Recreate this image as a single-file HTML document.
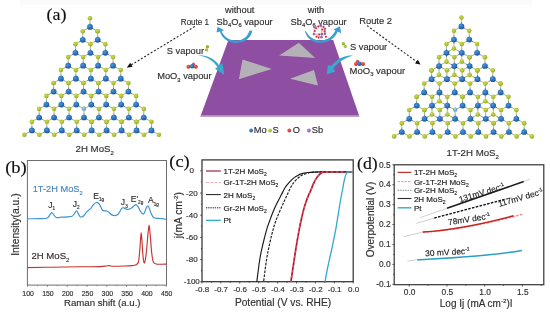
<!DOCTYPE html>
<html><head><meta charset="utf-8"><title>MoS2 figure</title>
<style>html,body{margin:0;padding:0;background:#fff;overflow:hidden}svg{display:block;filter:blur(0.4px)}</style>
</head><body>
<svg width="550" height="313" viewBox="0 0 550 313">
<defs>
<radialGradient id="gMo" cx="40%" cy="35%" r="70%"><stop offset="0" stop-color="#4a98dc"/><stop offset="0.55" stop-color="#2a72b8"/><stop offset="1" stop-color="#1a4f8e"/></radialGradient>
<radialGradient id="gS" cx="40%" cy="35%" r="70%"><stop offset="0" stop-color="#cfdc4c"/><stop offset="0.55" stop-color="#aec234"/><stop offset="1" stop-color="#8ea226"/></radialGradient>
<radialGradient id="gO" cx="40%" cy="35%" r="70%"><stop offset="0" stop-color="#f06a5a"/><stop offset="1" stop-color="#c8281e"/></radialGradient>
<radialGradient id="gSb" cx="40%" cy="35%" r="70%"><stop offset="0" stop-color="#b890d0"/><stop offset="1" stop-color="#8a58a8"/></radialGradient>
</defs>
<rect x="0" y="0" width="550" height="313" fill="#ffffff"/>
<rect x="20" y="0" width="512" height="4.5" fill="#fafafa"/>
<g stroke-width="1" fill="none">
<path stroke="#6b80b4" d="M90 26.9L90 22.58M90 26.9L86.26 29.06M90 26.9L93.74 29.06M82.73 39.84L82.73 35.52M82.73 39.84L79 42M82.73 39.84L86.47 42M97.69 39.84L97.69 35.52M97.69 39.84L93.95 42M97.69 39.84L101.42 42M75.47 52.78L75.47 48.46M75.47 52.78L71.73 54.94M75.47 52.78L79.21 54.94M90.42 52.78L90.42 48.46M90.42 52.78L86.68 54.94M90.42 52.78L94.16 54.94M105.37 52.78L105.37 48.46M105.37 52.78L101.63 54.94M105.37 52.78L109.11 54.94M68.2 65.72L68.2 61.4M68.2 65.72L64.47 67.88M68.2 65.72L71.94 67.88M83.16 65.72L83.16 61.4M83.16 65.72L79.42 67.88M83.16 65.72L86.89 67.88M98.1 65.72L98.1 61.4M98.1 65.72L94.37 67.88M98.1 65.72L101.84 67.88M113.05 65.72L113.05 61.4M113.05 65.72L109.32 67.88M113.05 65.72L116.79 67.88M60.94 78.66L60.94 74.34M60.94 78.66L57.2 80.82M60.94 78.66L64.68 80.82M75.89 78.66L75.89 74.34M75.89 78.66L72.15 80.82M75.89 78.66L79.63 80.82M90.84 78.66L90.84 74.34M90.84 78.66L87.1 80.82M90.84 78.66L94.58 80.82M105.79 78.66L105.79 74.34M105.79 78.66L102.05 80.82M105.79 78.66L109.53 80.82M120.74 78.66L120.74 74.34M120.74 78.66L117 80.82M120.74 78.66L124.48 80.82M53.68 91.6L53.68 87.28M53.68 91.6L49.94 93.76M53.68 91.6L57.41 93.76M68.62 91.6L68.62 87.28M68.62 91.6L64.89 93.76M68.62 91.6L72.36 93.76M83.58 91.6L83.58 87.28M83.58 91.6L79.84 93.76M83.58 91.6L87.31 93.76M98.53 91.6L98.53 87.28M98.53 91.6L94.79 93.76M98.53 91.6L102.26 93.76M113.47 91.6L113.47 87.28M113.47 91.6L109.74 93.76M113.47 91.6L117.21 93.76M128.43 91.6L128.43 87.28M128.43 91.6L124.69 93.76M128.43 91.6L132.16 93.76M46.41 104.54L46.41 100.22M46.41 104.54L42.67 106.7M46.41 104.54L50.15 106.7M61.36 104.54L61.36 100.22M61.36 104.54L57.62 106.7M61.36 104.54L65.1 106.7M76.31 104.54L76.31 100.22M76.31 104.54L72.57 106.7M76.31 104.54L80.05 106.7M91.26 104.54L91.26 100.22M91.26 104.54L87.52 106.7M91.26 104.54L95 106.7M106.21 104.54L106.21 100.22M106.21 104.54L102.47 106.7M106.21 104.54L109.95 106.7M121.16 104.54L121.16 100.22M121.16 104.54L117.42 106.7M121.16 104.54L124.9 106.7M136.11 104.54L136.11 100.22M136.11 104.54L132.37 106.7M136.11 104.54L139.85 106.7M39.15 117.48L39.15 113.16M39.15 117.48L35.41 119.64M39.15 117.48L42.88 119.64M54.09 117.48L54.09 113.16M54.09 117.48L50.36 119.64M54.09 117.48L57.83 119.64M69.05 117.48L69.05 113.16M69.05 117.48L65.31 119.64M69.05 117.48L72.78 119.64M84 117.48L84 113.16M84 117.48L80.26 119.64M84 117.48L87.73 119.64M98.94 117.48L98.94 113.16M98.94 117.48L95.21 119.64M98.94 117.48L102.68 119.64M113.9 117.48L113.9 113.16M113.9 117.48L110.16 119.64M113.9 117.48L117.63 119.64M128.84 117.48L128.84 113.16M128.84 117.48L125.11 119.64M128.84 117.48L132.58 119.64M143.79 117.48L143.79 113.16M143.79 117.48L140.06 119.64M143.79 117.48L147.53 119.64M31.88 130.42L31.88 126.1M31.88 130.42L28.14 132.58M31.88 130.42L35.62 132.58M46.83 130.42L46.83 126.1M46.83 130.42L43.09 132.58M46.83 130.42L50.57 132.58M61.78 130.42L61.78 126.1M61.78 130.42L58.04 132.58M61.78 130.42L65.52 132.58M76.73 130.42L76.73 126.1M76.73 130.42L72.99 132.58M76.73 130.42L80.47 132.58M91.68 130.42L91.68 126.1M91.68 130.42L87.94 132.58M91.68 130.42L95.42 132.58M106.63 130.42L106.63 126.1M106.63 130.42L102.89 132.58M106.63 130.42L110.37 132.58M121.58 130.42L121.58 126.1M121.58 130.42L117.84 132.58M121.58 130.42L125.32 132.58M136.53 130.42L136.53 126.1M136.53 130.42L132.79 132.58M136.53 130.42L140.27 132.58M151.48 130.42L151.48 126.1M151.48 130.42L147.74 132.58M151.48 130.42L155.22 132.58"/>
<path stroke="#b2bd58" d="M90 22.58L90 18.27M86.26 29.06L82.53 31.22M93.74 29.06L97.47 31.22M82.73 35.52L82.73 31.21M79 42L75.26 44.16M86.47 42L90.21 44.16M97.69 35.52L97.69 31.21M93.95 42L90.21 44.16M101.42 42L105.16 44.16M75.47 48.46L75.47 44.15M71.73 54.94L68 57.1M79.21 54.94L82.94 57.1M90.42 48.46L90.42 44.15M86.68 54.94L82.95 57.1M94.16 54.94L97.89 57.1M105.37 48.46L105.37 44.15M101.63 54.94L97.9 57.1M109.11 54.94L112.84 57.1M68.2 61.4L68.2 57.09M64.47 67.88L60.73 70.04M71.94 67.88L75.68 70.04M83.16 61.4L83.16 57.09M79.42 67.88L75.68 70.04M86.89 67.88L90.63 70.04M98.1 61.4L98.1 57.09M94.37 67.88L90.63 70.04M101.84 67.88L105.58 70.04M113.05 61.4L113.05 57.09M109.32 67.88L105.58 70.04M116.79 67.88L120.53 70.04M60.94 74.34L60.94 70.03M57.2 80.82L53.46 82.98M64.68 80.82L68.41 82.98M75.89 74.34L75.89 70.03M72.15 80.82L68.42 82.98M79.63 80.82L83.36 82.98M90.84 74.34L90.84 70.03M87.1 80.82L83.37 82.98M94.58 80.82L98.31 82.98M105.79 74.34L105.79 70.03M102.05 80.82L98.31 82.98M109.53 80.82L113.26 82.98M120.74 74.34L120.74 70.03M117 80.82L113.27 82.98M124.48 80.82L128.22 82.98M53.68 87.28L53.68 82.97M49.94 93.76L46.2 95.92M57.41 93.76L61.15 95.92M68.62 87.28L68.62 82.97M64.89 93.76L61.15 95.92M72.36 93.76L76.1 95.92M83.58 87.28L83.58 82.97M79.84 93.76L76.1 95.92M87.31 93.76L91.05 95.92M98.53 87.28L98.53 82.97M94.79 93.76L91.05 95.92M102.26 93.76L106 95.92M113.47 87.28L113.47 82.97M109.74 93.76L106 95.92M117.21 93.76L120.95 95.92M128.43 87.28L128.43 82.97M124.69 93.76L120.95 95.92M132.16 93.76L135.9 95.92M46.41 100.22L46.41 95.91M42.67 106.7L38.94 108.86M50.15 106.7L53.89 108.86M61.36 100.22L61.36 95.91M57.62 106.7L53.88 108.86M65.1 106.7L68.83 108.86M76.31 100.22L76.31 95.91M72.57 106.7L68.84 108.86M80.05 106.7L83.78 108.86M91.26 100.22L91.26 95.91M87.52 106.7L83.78 108.86M95 106.7L98.73 108.86M106.21 100.22L106.21 95.91M102.47 106.7L98.74 108.86M109.95 106.7L113.69 108.86M121.16 100.22L121.16 95.91M117.42 106.7L113.69 108.86M124.9 106.7L128.63 108.86M136.11 100.22L136.11 95.91M132.37 106.7L128.63 108.86M139.85 106.7L143.58 108.86M39.15 113.16L39.15 108.85M35.41 119.64L31.67 121.8M42.88 119.64L46.62 121.8M54.09 113.16L54.09 108.85M50.36 119.64L46.62 121.8M57.83 119.64L61.57 121.8M69.05 113.16L69.05 108.85M65.31 119.64L61.57 121.8M72.78 119.64L76.52 121.8M84 113.16L84 108.85M80.26 119.64L76.52 121.8M87.73 119.64L91.47 121.8M98.94 113.16L98.94 108.85M95.21 119.64L91.47 121.8M102.68 119.64L106.42 121.8M113.9 113.16L113.9 108.85M110.16 119.64L106.42 121.8M117.63 119.64L121.37 121.8M128.84 113.16L128.84 108.85M125.11 119.64L121.37 121.8M132.58 119.64L136.32 121.8M143.79 113.16L143.79 108.85M140.06 119.64L136.32 121.8M147.53 119.64L151.27 121.8M31.88 126.1L31.88 121.79M28.14 132.58L24.41 134.74M35.62 132.58L39.36 134.74M46.83 126.1L46.83 121.79M43.09 132.58L39.35 134.74M50.57 132.58L54.3 134.74M61.78 126.1L61.78 121.79M58.04 132.58L54.3 134.74M65.52 132.58L69.25 134.74M76.73 126.1L76.73 121.79M72.99 132.58L69.25 134.74M80.47 132.58L84.2 134.74M91.68 126.1L91.68 121.79M87.94 132.58L84.21 134.74M95.42 132.58L99.16 134.74M106.63 126.1L106.63 121.79M102.89 132.58L99.16 134.74M110.37 132.58L114.1 134.74M121.58 126.1L121.58 121.79M117.84 132.58L114.1 134.74M125.32 132.58L129.05 134.74M136.53 126.1L136.53 121.79M132.79 132.58L129.06 134.74M140.27 132.58L144 134.74M151.48 126.1L151.48 121.79M147.74 132.58L144 134.74M155.22 132.58L158.95 134.74"/>
</g>
<g fill="url(#gS)">
<circle cx="90" cy="18.27" r="2.3"/>
<circle cx="82.73" cy="31.21" r="2.3"/>
<circle cx="97.47" cy="31.22" r="2.3"/>
<circle cx="75.47" cy="44.15" r="2.3"/>
<circle cx="90.42" cy="44.15" r="2.3"/>
<circle cx="97.69" cy="31.21" r="2.3"/>
<circle cx="105.37" cy="44.15" r="2.3"/>
<circle cx="68.2" cy="57.09" r="2.3"/>
<circle cx="83.16" cy="57.09" r="2.3"/>
<circle cx="98.1" cy="57.09" r="2.3"/>
<circle cx="113.05" cy="57.09" r="2.3"/>
<circle cx="60.94" cy="70.03" r="2.3"/>
<circle cx="75.89" cy="70.03" r="2.3"/>
<circle cx="90.84" cy="70.03" r="2.3"/>
<circle cx="105.79" cy="70.03" r="2.3"/>
<circle cx="120.74" cy="70.03" r="2.3"/>
<circle cx="53.46" cy="82.98" r="2.3"/>
<circle cx="68.42" cy="82.98" r="2.3"/>
<circle cx="83.37" cy="82.98" r="2.3"/>
<circle cx="98.31" cy="82.98" r="2.3"/>
<circle cx="113.47" cy="82.97" r="2.3"/>
<circle cx="128.43" cy="82.97" r="2.3"/>
<circle cx="53.68" cy="82.97" r="2.3"/>
<circle cx="46.41" cy="95.91" r="2.3"/>
<circle cx="61.36" cy="95.91" r="2.3"/>
<circle cx="68.62" cy="82.97" r="2.3"/>
<circle cx="76.31" cy="95.91" r="2.3"/>
<circle cx="83.58" cy="82.97" r="2.3"/>
<circle cx="91.26" cy="95.91" r="2.3"/>
<circle cx="98.53" cy="82.97" r="2.3"/>
<circle cx="106.21" cy="95.91" r="2.3"/>
<circle cx="121.16" cy="95.91" r="2.3"/>
<circle cx="136.11" cy="95.91" r="2.3"/>
<circle cx="39.15" cy="108.85" r="2.3"/>
<circle cx="54.09" cy="108.85" r="2.3"/>
<circle cx="69.05" cy="108.85" r="2.3"/>
<circle cx="84" cy="108.85" r="2.3"/>
<circle cx="98.94" cy="108.85" r="2.3"/>
<circle cx="113.9" cy="108.85" r="2.3"/>
<circle cx="128.84" cy="108.85" r="2.3"/>
<circle cx="143.79" cy="108.85" r="2.3"/>
<circle cx="31.88" cy="121.79" r="2.3"/>
<circle cx="46.83" cy="121.79" r="2.3"/>
<circle cx="61.78" cy="121.79" r="2.3"/>
<circle cx="76.73" cy="121.79" r="2.3"/>
<circle cx="91.47" cy="121.8" r="2.3"/>
<circle cx="106.42" cy="121.8" r="2.3"/>
<circle cx="121.37" cy="121.8" r="2.3"/>
<circle cx="136.32" cy="121.8" r="2.3"/>
<circle cx="151.48" cy="121.79" r="2.3"/>
<circle cx="24.41" cy="134.74" r="2.3"/>
<circle cx="39.35" cy="134.74" r="2.3"/>
<circle cx="54.3" cy="134.74" r="2.3"/>
<circle cx="69.25" cy="134.74" r="2.3"/>
<circle cx="84.21" cy="134.74" r="2.3"/>
<circle cx="91.68" cy="121.79" r="2.3"/>
<circle cx="99.16" cy="134.74" r="2.3"/>
<circle cx="106.63" cy="121.79" r="2.3"/>
<circle cx="114.1" cy="134.74" r="2.3"/>
<circle cx="121.58" cy="121.79" r="2.3"/>
<circle cx="129.06" cy="134.74" r="2.3"/>
<circle cx="136.53" cy="121.79" r="2.3"/>
<circle cx="144" cy="134.74" r="2.3"/>
<circle cx="158.95" cy="134.74" r="2.3"/>
</g>
<g fill="url(#gMo)">
<circle cx="90" cy="26.9" r="2.85"/>
<circle cx="82.73" cy="39.84" r="2.85"/>
<circle cx="97.69" cy="39.84" r="2.85"/>
<circle cx="75.47" cy="52.78" r="2.85"/>
<circle cx="90.42" cy="52.78" r="2.85"/>
<circle cx="105.37" cy="52.78" r="2.85"/>
<circle cx="68.2" cy="65.72" r="2.85"/>
<circle cx="83.16" cy="65.72" r="2.85"/>
<circle cx="98.1" cy="65.72" r="2.85"/>
<circle cx="113.05" cy="65.72" r="2.85"/>
<circle cx="60.94" cy="78.66" r="2.85"/>
<circle cx="75.89" cy="78.66" r="2.85"/>
<circle cx="90.84" cy="78.66" r="2.85"/>
<circle cx="105.79" cy="78.66" r="2.85"/>
<circle cx="120.74" cy="78.66" r="2.85"/>
<circle cx="53.68" cy="91.6" r="2.85"/>
<circle cx="68.62" cy="91.6" r="2.85"/>
<circle cx="83.58" cy="91.6" r="2.85"/>
<circle cx="98.53" cy="91.6" r="2.85"/>
<circle cx="113.47" cy="91.6" r="2.85"/>
<circle cx="128.43" cy="91.6" r="2.85"/>
<circle cx="46.41" cy="104.54" r="2.85"/>
<circle cx="61.36" cy="104.54" r="2.85"/>
<circle cx="76.31" cy="104.54" r="2.85"/>
<circle cx="91.26" cy="104.54" r="2.85"/>
<circle cx="106.21" cy="104.54" r="2.85"/>
<circle cx="121.16" cy="104.54" r="2.85"/>
<circle cx="136.11" cy="104.54" r="2.85"/>
<circle cx="39.15" cy="117.48" r="2.85"/>
<circle cx="54.09" cy="117.48" r="2.85"/>
<circle cx="69.05" cy="117.48" r="2.85"/>
<circle cx="84" cy="117.48" r="2.85"/>
<circle cx="98.94" cy="117.48" r="2.85"/>
<circle cx="113.9" cy="117.48" r="2.85"/>
<circle cx="128.84" cy="117.48" r="2.85"/>
<circle cx="143.79" cy="117.48" r="2.85"/>
<circle cx="31.88" cy="130.42" r="2.85"/>
<circle cx="46.83" cy="130.42" r="2.85"/>
<circle cx="61.78" cy="130.42" r="2.85"/>
<circle cx="76.73" cy="130.42" r="2.85"/>
<circle cx="91.68" cy="130.42" r="2.85"/>
<circle cx="106.63" cy="130.42" r="2.85"/>
<circle cx="121.58" cy="130.42" r="2.85"/>
<circle cx="136.53" cy="130.42" r="2.85"/>
<circle cx="151.48" cy="130.42" r="2.85"/>
</g>
<g stroke-width="1" fill="none">
<path stroke="#6b80b4" d="M461.4 26.4L461.4 21.98M461.4 26.4L457.57 28.61M461.4 26.4L465.22 28.61M453.95 39.6L453.95 35.18M453.95 39.6L450.12 41.81M453.95 39.6L457.77 41.81M453.95 39.6L453.95 44.02M446.3 52.8L450.12 50.62M461.6 52.8L457.77 50.62M469.25 39.6L469.25 35.18M469.25 39.6L465.43 41.81M469.25 39.6L473.07 41.81M446.5 52.8L446.5 48.38M446.5 52.8L442.68 55.01M446.5 52.8L450.32 55.01M446.5 52.8L446.5 57.22M438.85 66L442.68 63.82M454.15 66L450.32 63.82M461.8 52.8L461.8 48.38M461.8 52.8L457.98 55.01M461.8 52.8L465.62 55.01M461.8 52.8L461.8 57.22M454.15 66L457.98 63.82M469.45 66L465.62 63.82M477.1 52.8L477.1 48.38M477.1 52.8L473.28 55.01M477.1 52.8L480.93 55.01M439.05 66L439.05 61.58M439.05 66L435.22 68.21M439.05 66L442.87 68.21M439.05 66L439.05 70.42M431.4 79.2L435.22 77.02M446.7 79.2L442.87 77.02M454.35 66L454.35 61.58M454.35 66L450.52 68.21M454.35 66L458.17 68.21M454.35 66L454.35 70.42M446.7 79.2L450.52 77.02M462 79.2L458.17 77.02M469.65 66L469.65 61.58M469.65 66L465.82 68.21M469.65 66L473.47 68.21M469.65 66L469.65 70.42M462 79.2L465.82 77.02M477.3 79.2L473.47 77.02M484.95 66L484.95 61.58M484.95 66L481.12 68.21M484.95 66L488.77 68.21M431.6 79.2L431.6 74.78M431.6 79.2L427.77 81.41M431.6 79.2L435.42 81.41M446.9 79.2L446.9 74.78M446.9 79.2L443.07 81.41M446.9 79.2L450.72 81.41M462.2 79.2L462.2 74.78M462.2 79.2L458.38 81.41M462.2 79.2L466.02 81.41M477.5 79.2L477.5 74.78M477.5 79.2L473.68 81.41M477.5 79.2L481.32 81.41M492.8 79.2L492.8 74.78M492.8 79.2L488.97 81.41M492.8 79.2L496.62 81.41M424.15 92.4L424.15 87.98M424.15 92.4L420.32 94.61M424.15 92.4L427.97 94.61M439.45 92.4L439.45 87.98M439.45 92.4L435.62 94.61M439.45 92.4L443.27 94.61M439.45 92.4L439.45 96.82M431.8 105.6L435.62 103.42M447.1 105.6L443.27 103.42M454.75 92.4L454.75 87.98M454.75 92.4L450.93 94.61M454.75 92.4L458.57 94.61M470.05 92.4L470.05 87.98M470.05 92.4L466.22 94.61M470.05 92.4L473.87 94.61M485.35 92.4L485.35 87.98M485.35 92.4L481.52 94.61M485.35 92.4L489.17 94.61M485.35 92.4L485.35 96.82M477.7 105.6L481.52 103.42M493 105.6L489.17 103.42M500.65 92.4L500.65 87.98M500.65 92.4L496.82 94.61M500.65 92.4L504.47 94.61M416.7 105.6L416.7 101.18M416.7 105.6L412.88 107.81M416.7 105.6L420.52 107.81M432 105.6L432 101.18M432 105.6L428.18 107.81M432 105.6L435.82 107.81M432 105.6L432 110.02M424.35 118.8L428.18 116.62M439.65 118.8L435.82 116.62M447.3 105.6L447.3 101.18M447.3 105.6L443.48 107.81M447.3 105.6L451.12 107.81M447.3 105.6L447.3 110.02M439.65 118.8L443.48 116.62M454.95 118.8L451.12 116.62M462.6 105.6L462.6 101.18M462.6 105.6L458.78 107.81M462.6 105.6L466.43 107.81M477.9 105.6L477.9 101.18M477.9 105.6L474.07 107.81M477.9 105.6L481.72 107.81M477.9 105.6L477.9 110.02M470.25 118.8L474.07 116.62M485.55 118.8L481.72 116.62M493.2 105.6L493.2 101.18M493.2 105.6L489.38 107.81M493.2 105.6L497.02 107.81M493.2 105.6L493.2 110.02M485.55 118.8L489.38 116.62M500.85 118.8L497.02 116.62M508.5 105.6L508.5 101.18M508.5 105.6L504.68 107.81M508.5 105.6L512.33 107.81M409.25 118.8L409.25 114.38M409.25 118.8L405.43 121.01M409.25 118.8L413.07 121.01M424.55 118.8L424.55 114.38M424.55 118.8L420.73 121.01M424.55 118.8L428.38 121.01M439.85 118.8L439.85 114.38M439.85 118.8L436.03 121.01M439.85 118.8L443.68 121.01M455.15 118.8L455.15 114.38M455.15 118.8L451.32 121.01M455.15 118.8L458.97 121.01M470.45 118.8L470.45 114.38M470.45 118.8L466.62 121.01M470.45 118.8L474.27 121.01M485.75 118.8L485.75 114.38M485.75 118.8L481.93 121.01M485.75 118.8L489.57 121.01M501.05 118.8L501.05 114.38M501.05 118.8L497.23 121.01M501.05 118.8L504.88 121.01M516.35 118.8L516.35 114.38M516.35 118.8L512.53 121.01M516.35 118.8L520.17 121.01M401.8 132L401.8 127.58M401.8 132L397.97 134.21M401.8 132L405.62 134.21M417.1 132L417.1 127.58M417.1 132L413.27 134.21M417.1 132L420.92 134.21M432.4 132L432.4 127.58M432.4 132L428.57 134.21M432.4 132L436.22 134.21M447.7 132L447.7 127.58M447.7 132L443.87 134.21M447.7 132L451.52 134.21M463 132L463 127.58M463 132L459.17 134.21M463 132L466.82 134.21M478.3 132L478.3 127.58M478.3 132L474.47 134.21M478.3 132L482.12 134.21M493.6 132L493.6 127.58M493.6 132L489.77 134.21M493.6 132L497.42 134.21M508.9 132L508.9 127.58M508.9 132L505.07 134.21M508.9 132L512.72 134.21M524.2 132L524.2 127.58M524.2 132L520.38 134.21M524.2 132L528.02 134.21"/>
<path stroke="#b2bd58" d="M461.4 21.98L461.4 17.57M457.57 28.61L453.75 30.82M465.22 28.61L469.05 30.82M453.95 35.18L453.95 30.77M450.12 41.81L446.3 44.02M457.77 41.81L461.6 44.02M453.95 44.02L453.95 48.43M450.12 50.62L453.95 48.43M457.77 50.62L453.95 48.43M469.25 35.18L469.25 30.77M465.43 41.81L461.6 44.02M473.07 41.81L476.9 44.02M446.5 48.38L446.5 43.97M442.68 55.01L438.85 57.22M450.32 55.01L454.15 57.22M446.5 57.22L446.5 61.63M442.68 63.82L446.5 61.63M450.32 63.82L446.5 61.63M461.8 48.38L461.8 43.97M457.98 55.01L454.15 57.22M465.62 55.01L469.45 57.22M461.8 57.22L461.8 61.63M457.98 63.82L461.8 61.63M465.62 63.82L461.8 61.63M477.1 48.38L477.1 43.97M473.28 55.01L469.45 57.22M480.93 55.01L484.75 57.22M439.05 61.58L439.05 57.17M435.22 68.21L431.4 70.42M442.87 68.21L446.7 70.42M439.05 70.42L439.05 74.83M435.22 77.02L439.05 74.83M442.87 77.02L439.05 74.83M454.35 61.58L454.35 57.17M450.52 68.21L446.7 70.42M458.17 68.21L462 70.42M454.35 70.42L454.35 74.83M450.52 77.02L454.35 74.83M458.17 77.02L454.35 74.83M469.65 61.58L469.65 57.17M465.82 68.21L462 70.42M473.47 68.21L477.3 70.42M469.65 70.42L469.65 74.83M465.82 77.02L469.65 74.83M473.47 77.02L469.65 74.83M484.95 61.58L484.95 57.17M481.12 68.21L477.3 70.42M488.77 68.21L492.6 70.42M431.6 74.78L431.6 70.37M427.77 81.41L423.95 83.62M435.42 81.41L439.25 83.62M446.9 74.78L446.9 70.37M443.07 81.41L439.25 83.62M450.72 81.41L454.55 83.62M462.2 74.78L462.2 70.37M458.38 81.41L454.55 83.62M466.02 81.41L469.85 83.62M477.5 74.78L477.5 70.37M473.68 81.41L469.85 83.62M481.32 81.41L485.15 83.62M492.8 74.78L492.8 70.37M488.97 81.41L485.15 83.62M496.62 81.41L500.45 83.62M424.15 87.98L424.15 83.57M420.32 94.61L416.5 96.82M427.97 94.61L431.8 96.82M439.45 87.98L439.45 83.57M435.62 94.61L431.8 96.82M443.27 94.61L447.1 96.82M439.45 96.82L439.45 101.23M435.62 103.42L439.45 101.23M443.27 103.42L439.45 101.23M454.75 87.98L454.75 83.57M450.93 94.61L447.1 96.82M458.57 94.61L462.4 96.82M470.05 87.98L470.05 83.57M466.22 94.61L462.4 96.82M473.87 94.61L477.7 96.82M485.35 87.98L485.35 83.57M481.52 94.61L477.7 96.82M489.17 94.61L493 96.82M485.35 96.82L485.35 101.23M481.52 103.42L485.35 101.23M489.17 103.42L485.35 101.23M500.65 87.98L500.65 83.57M496.82 94.61L493 96.82M504.47 94.61L508.3 96.82M416.7 101.18L416.7 96.77M412.88 107.81L409.05 110.02M420.52 107.81L424.35 110.02M432 101.18L432 96.77M428.18 107.81L424.35 110.02M435.82 107.81L439.65 110.02M432 110.02L432 114.43M428.18 116.62L432 114.43M435.82 116.62L432 114.43M447.3 101.18L447.3 96.77M443.48 107.81L439.65 110.02M451.12 107.81L454.95 110.02M447.3 110.02L447.3 114.43M443.48 116.62L447.3 114.43M451.12 116.62L447.3 114.43M462.6 101.18L462.6 96.77M458.78 107.81L454.95 110.02M466.43 107.81L470.25 110.02M477.9 101.18L477.9 96.77M474.07 107.81L470.25 110.02M481.72 107.81L485.55 110.02M477.9 110.02L477.9 114.43M474.07 116.62L477.9 114.43M481.72 116.62L477.9 114.43M493.2 101.18L493.2 96.77M489.38 107.81L485.55 110.02M497.02 107.81L500.85 110.02M493.2 110.02L493.2 114.43M489.38 116.62L493.2 114.43M497.02 116.62L493.2 114.43M508.5 101.18L508.5 96.77M504.68 107.81L500.85 110.02M512.33 107.81L516.15 110.02M409.25 114.38L409.25 109.97M405.43 121.01L401.6 123.22M413.07 121.01L416.9 123.22M424.55 114.38L424.55 109.97M420.73 121.01L416.9 123.22M428.38 121.01L432.2 123.22M439.85 114.38L439.85 109.97M436.03 121.01L432.2 123.22M443.68 121.01L447.5 123.22M455.15 114.38L455.15 109.97M451.32 121.01L447.5 123.22M458.97 121.01L462.8 123.22M470.45 114.38L470.45 109.97M466.62 121.01L462.8 123.22M474.27 121.01L478.1 123.22M485.75 114.38L485.75 109.97M481.93 121.01L478.1 123.22M489.57 121.01L493.4 123.22M501.05 114.38L501.05 109.97M497.23 121.01L493.4 123.22M504.88 121.01L508.7 123.22M516.35 114.38L516.35 109.97M512.53 121.01L508.7 123.22M520.17 121.01L524 123.22M401.8 127.58L401.8 123.17M397.97 134.21L394.15 136.42M405.62 134.21L409.45 136.42M417.1 127.58L417.1 123.17M413.27 134.21L409.45 136.42M420.92 134.21L424.75 136.42M432.4 127.58L432.4 123.17M428.57 134.21L424.75 136.42M436.22 134.21L440.05 136.42M447.7 127.58L447.7 123.17M443.87 134.21L440.05 136.42M451.52 134.21L455.35 136.42M463 127.58L463 123.17M459.17 134.21L455.35 136.42M466.82 134.21L470.65 136.42M478.3 127.58L478.3 123.17M474.47 134.21L470.65 136.42M482.12 134.21L485.95 136.42M493.6 127.58L493.6 123.17M489.77 134.21L485.95 136.42M497.42 134.21L501.25 136.42M508.9 127.58L508.9 123.17M505.07 134.21L501.25 136.42M512.72 134.21L516.55 136.42M524.2 127.58L524.2 123.17M520.38 134.21L516.55 136.42M528.02 134.21L531.85 136.42"/>
</g>
<g fill="url(#gS)">
<circle cx="461.4" cy="17.57" r="2.3"/>
<circle cx="453.95" cy="30.77" r="2.3"/>
<circle cx="469.25" cy="30.77" r="2.3"/>
<circle cx="446.5" cy="43.97" r="2.3"/>
<circle cx="461.8" cy="43.97" r="2.3"/>
<circle cx="453.95" cy="48.43" r="2.3"/>
<circle cx="477.1" cy="43.97" r="2.3"/>
<circle cx="439.05" cy="57.17" r="2.3"/>
<circle cx="454.35" cy="57.17" r="2.3"/>
<circle cx="446.5" cy="61.63" r="2.3"/>
<circle cx="469.45" cy="57.22" r="2.3"/>
<circle cx="461.8" cy="61.63" r="2.3"/>
<circle cx="484.95" cy="57.17" r="2.3"/>
<circle cx="431.4" cy="70.42" r="2.3"/>
<circle cx="446.9" cy="70.37" r="2.3"/>
<circle cx="439.05" cy="74.83" r="2.3"/>
<circle cx="462.2" cy="70.37" r="2.3"/>
<circle cx="454.35" cy="74.83" r="2.3"/>
<circle cx="469.65" cy="57.17" r="2.3"/>
<circle cx="477.3" cy="70.42" r="2.3"/>
<circle cx="469.65" cy="74.83" r="2.3"/>
<circle cx="492.8" cy="70.37" r="2.3"/>
<circle cx="431.6" cy="70.37" r="2.3"/>
<circle cx="424.15" cy="83.57" r="2.3"/>
<circle cx="439.45" cy="83.57" r="2.3"/>
<circle cx="454.75" cy="83.57" r="2.3"/>
<circle cx="470.05" cy="83.57" r="2.3"/>
<circle cx="477.5" cy="70.37" r="2.3"/>
<circle cx="485.35" cy="83.57" r="2.3"/>
<circle cx="500.45" cy="83.62" r="2.3"/>
<circle cx="416.5" cy="96.82" r="2.3"/>
<circle cx="432" cy="96.77" r="2.3"/>
<circle cx="447.3" cy="96.77" r="2.3"/>
<circle cx="439.45" cy="101.23" r="2.3"/>
<circle cx="462.4" cy="96.82" r="2.3"/>
<circle cx="477.9" cy="96.77" r="2.3"/>
<circle cx="493.2" cy="96.77" r="2.3"/>
<circle cx="485.35" cy="101.23" r="2.3"/>
<circle cx="500.65" cy="83.57" r="2.3"/>
<circle cx="508.5" cy="96.77" r="2.3"/>
<circle cx="416.7" cy="96.77" r="2.3"/>
<circle cx="409.25" cy="109.97" r="2.3"/>
<circle cx="424.35" cy="110.02" r="2.3"/>
<circle cx="439.85" cy="109.97" r="2.3"/>
<circle cx="432" cy="114.43" r="2.3"/>
<circle cx="455.15" cy="109.97" r="2.3"/>
<circle cx="447.3" cy="114.43" r="2.3"/>
<circle cx="462.6" cy="96.77" r="2.3"/>
<circle cx="470.45" cy="109.97" r="2.3"/>
<circle cx="485.75" cy="109.97" r="2.3"/>
<circle cx="477.9" cy="114.43" r="2.3"/>
<circle cx="501.05" cy="109.97" r="2.3"/>
<circle cx="493.2" cy="114.43" r="2.3"/>
<circle cx="516.35" cy="109.97" r="2.3"/>
<circle cx="401.8" cy="123.17" r="2.3"/>
<circle cx="417.1" cy="123.17" r="2.3"/>
<circle cx="424.55" cy="109.97" r="2.3"/>
<circle cx="432.4" cy="123.17" r="2.3"/>
<circle cx="447.7" cy="123.17" r="2.3"/>
<circle cx="463" cy="123.17" r="2.3"/>
<circle cx="478.3" cy="123.17" r="2.3"/>
<circle cx="493.4" cy="123.22" r="2.3"/>
<circle cx="508.9" cy="123.17" r="2.3"/>
<circle cx="524.2" cy="123.17" r="2.3"/>
<circle cx="394.15" cy="136.42" r="2.3"/>
<circle cx="409.45" cy="136.42" r="2.3"/>
<circle cx="424.75" cy="136.42" r="2.3"/>
<circle cx="440.05" cy="136.42" r="2.3"/>
<circle cx="455.35" cy="136.42" r="2.3"/>
<circle cx="470.65" cy="136.42" r="2.3"/>
<circle cx="485.95" cy="136.42" r="2.3"/>
<circle cx="493.6" cy="123.17" r="2.3"/>
<circle cx="501.25" cy="136.42" r="2.3"/>
<circle cx="516.55" cy="136.42" r="2.3"/>
<circle cx="531.85" cy="136.42" r="2.3"/>
</g>
<g fill="url(#gMo)">
<circle cx="461.4" cy="26.4" r="2.85"/>
<circle cx="453.95" cy="39.6" r="2.85"/>
<circle cx="469.25" cy="39.6" r="2.85"/>
<circle cx="446.5" cy="52.8" r="2.85"/>
<circle cx="461.8" cy="52.8" r="2.85"/>
<circle cx="477.1" cy="52.8" r="2.85"/>
<circle cx="439.05" cy="66" r="2.85"/>
<circle cx="454.35" cy="66" r="2.85"/>
<circle cx="469.65" cy="66" r="2.85"/>
<circle cx="484.95" cy="66" r="2.85"/>
<circle cx="431.6" cy="79.2" r="2.85"/>
<circle cx="446.9" cy="79.2" r="2.85"/>
<circle cx="462.2" cy="79.2" r="2.85"/>
<circle cx="477.5" cy="79.2" r="2.85"/>
<circle cx="492.8" cy="79.2" r="2.85"/>
<circle cx="424.15" cy="92.4" r="2.85"/>
<circle cx="439.45" cy="92.4" r="2.85"/>
<circle cx="454.75" cy="92.4" r="2.85"/>
<circle cx="470.05" cy="92.4" r="2.85"/>
<circle cx="485.35" cy="92.4" r="2.85"/>
<circle cx="500.65" cy="92.4" r="2.85"/>
<circle cx="416.7" cy="105.6" r="2.85"/>
<circle cx="432" cy="105.6" r="2.85"/>
<circle cx="447.3" cy="105.6" r="2.85"/>
<circle cx="462.6" cy="105.6" r="2.85"/>
<circle cx="477.9" cy="105.6" r="2.85"/>
<circle cx="493.2" cy="105.6" r="2.85"/>
<circle cx="508.5" cy="105.6" r="2.85"/>
<circle cx="409.25" cy="118.8" r="2.85"/>
<circle cx="424.55" cy="118.8" r="2.85"/>
<circle cx="439.85" cy="118.8" r="2.85"/>
<circle cx="455.15" cy="118.8" r="2.85"/>
<circle cx="470.45" cy="118.8" r="2.85"/>
<circle cx="485.75" cy="118.8" r="2.85"/>
<circle cx="501.05" cy="118.8" r="2.85"/>
<circle cx="516.35" cy="118.8" r="2.85"/>
<circle cx="401.8" cy="132" r="2.85"/>
<circle cx="417.1" cy="132" r="2.85"/>
<circle cx="432.4" cy="132" r="2.85"/>
<circle cx="447.7" cy="132" r="2.85"/>
<circle cx="463" cy="132" r="2.85"/>
<circle cx="478.3" cy="132" r="2.85"/>
<circle cx="493.6" cy="132" r="2.85"/>
<circle cx="508.9" cy="132" r="2.85"/>
<circle cx="524.2" cy="132" r="2.85"/>
</g>
<radialGradient id="gLb" cx="45%" cy="40%" r="65%"><stop offset="0" stop-color="#d6e8fa"/><stop offset="0.55" stop-color="#6aa4e0"/><stop offset="1" stop-color="#2f6cb8"/></radialGradient>
<circle cx="83.8" cy="108.8" r="2.2" fill="#f4f8fc"/><circle cx="83.8" cy="108.6" r="2.05" fill="url(#gLb)"/>
<circle cx="455" cy="110" r="2.2" fill="#f4f8fc"/><circle cx="455" cy="109.6" r="2.05" fill="url(#gLb)"/>
<text x="46.6" y="19.6" font-size="17" text-anchor="start" fill="#111" stroke="#111" stroke-width="0.16" font-family='"Liberation Serif", "Times New Roman", serif' textLength="20" lengthAdjust="spacingAndGlyphs">(a)</text>
<text x="5.2" y="172.8" font-size="17.4" text-anchor="start" fill="#111" stroke="#111" stroke-width="0.16" font-family='"Liberation Serif", "Times New Roman", serif' textLength="21.6" lengthAdjust="spacingAndGlyphs">(b)</text>
<text x="169.3" y="167.4" font-size="17.4" text-anchor="start" fill="#111" stroke="#111" stroke-width="0.16" font-family='"Liberation Serif", "Times New Roman", serif' textLength="20.4" lengthAdjust="spacingAndGlyphs">(c)</text>
<text x="357" y="168.6" font-size="17.4" text-anchor="start" fill="#111" stroke="#111" stroke-width="0.16" font-family='"Liberation Serif", "Times New Roman", serif' textLength="20.6" lengthAdjust="spacingAndGlyphs">(d)</text>
<polygon points="228.4,40 333.2,40 359.4,116.6 200.4,116.6" fill="#8e4ea2"/>
<polygon points="200.9,115.3 359,115.3 359.4,116.6 200.4,116.6" fill="#bd9cc6"/>
<g fill="#b4b2b6">
<polygon points="279.2,55.4 298.8,42.8 315.2,58"/>
<polygon points="242.5,59.5 271.9,68.9 238.9,79.2"/>
<polygon points="290,78.8 314,70 318,85.4"/>
</g>
<path d="M252.4 30.6 C250.8 39.2 243.6 43 236 42.9 C227.8 42.8 221.6 38 219.6 30.4 L221 30 C223.6 36.6 229 40.5 236 40.6 C242.4 40.7 247.4 37.2 249.4 30.8Z" fill="#3a9fd0"/>
<polygon points="217.5,26.8 224.2,30.2 216.6,32.6" fill="#3a9fd0"/>
<path d="M304.8 31.2 C307.2 39.2 313.4 42.8 320.6 42.8 C329 42.8 335.2 38.4 338.2 30.6 L335.8 29.8 C333 36.2 327.6 40.3 320.6 40.4 C314.4 40.5 309 37.2 305.8 31Z" fill="#3a9fd0"/>
<polygon points="340,26.2 341.2,33.2 333.4,29.6" fill="#3a9fd0"/>
<path d="M197.8 55.3 C204 54.8 210.6 57 215 60.8 C217 62.6 218.4 64.2 219.2 65.4 L222.6 63.3 L224.2 74.8 L215 68.7 L217.4 67 C215 63.6 212 60.8 208.6 58.8 C205.2 56.8 201.6 55.8 197.8 55.3Z" fill="#38a8cc"/>
<path d="M353 55.6 C346 55.2 339.6 58 335.6 61.4 C333.6 63 332.4 64.4 331.6 65.8 L327.9 65.2 L326.7 74.6 L335.3 71.4 L333.3 68.6 C335.4 65.4 338.6 62.4 342 60.4 C345.4 58.4 349 57 353 55.6Z" fill="#38a8cc"/>
<g stroke="#222" stroke-width="1.1" stroke-dasharray="2 1.8" fill="none">
<path d="M194.7 26.5 L130 65.6"/>
<path d="M367 25.6 L417.6 62.4"/>
</g>
<polygon points="126.7,67.7 130.2,62.8 132.6,66.8" fill="#111"/>
<polygon points="420.6,64.6 415,63.6 417.8,59.8" fill="#111"/>
<text x="180.8" y="24.6" font-size="9" text-anchor="start" fill="#303030" stroke="#303030" stroke-width="0.16" font-family='"Liberation Sans", Arial, sans-serif' textLength="28.3" lengthAdjust="spacingAndGlyphs">Route 1</text>
<text x="239.7" y="12.7" font-size="9.3" text-anchor="middle" fill="#303030" stroke="#303030" stroke-width="0.16" font-family='"Liberation Sans", Arial, sans-serif' >without</text>
<text x="216.6" y="24.8" font-size="9.3" text-anchor="start" fill="#303030" stroke="#303030" stroke-width="0.16" font-family='"Liberation Sans", Arial, sans-serif' >Sb<tspan dy="2.33" font-size="5.77">4</tspan><tspan dy="-2.33">O</tspan><tspan dy="2.33" font-size="5.77">6</tspan><tspan dy="-2.33"> vapour</tspan></text>
<text x="166.8" y="53.8" font-size="9.3" text-anchor="start" fill="#303030" stroke="#303030" stroke-width="0.16" font-family='"Liberation Sans", Arial, sans-serif' >S vapour</text>
<text x="157.2" y="79.4" font-size="9.3" text-anchor="start" fill="#303030" stroke="#303030" stroke-width="0.16" font-family='"Liberation Sans", Arial, sans-serif' >MoO<tspan dy="2.33" font-size="5.77">3</tspan><tspan dy="-2.33"> vapour</tspan></text>
<text x="316" y="13.2" font-size="9.3" text-anchor="middle" fill="#303030" stroke="#303030" stroke-width="0.16" font-family='"Liberation Sans", Arial, sans-serif' >with</text>
<text x="290.6" y="24.8" font-size="9.3" text-anchor="start" fill="#303030" stroke="#303030" stroke-width="0.16" font-family='"Liberation Sans", Arial, sans-serif' >Sb<tspan dy="2.33" font-size="5.77">4</tspan><tspan dy="-2.33">O</tspan><tspan dy="2.33" font-size="5.77">6</tspan><tspan dy="-2.33"> vapour</tspan></text>
<text x="359.2" y="24.4" font-size="9.5" text-anchor="start" fill="#303030" stroke="#303030" stroke-width="0.16" font-family='"Liberation Sans", Arial, sans-serif' textLength="32.8" lengthAdjust="spacingAndGlyphs">Route 2</text>
<text x="350" y="50" font-size="9.3" text-anchor="start" fill="#303030" stroke="#303030" stroke-width="0.16" font-family='"Liberation Sans", Arial, sans-serif' >S vapour</text>
<text x="349.6" y="74.1" font-size="9.5" text-anchor="start" fill="#303030" stroke="#303030" stroke-width="0.16" font-family='"Liberation Sans", Arial, sans-serif' >MoO<tspan dy="2.38" font-size="5.89">3</tspan><tspan dy="-2.38"> vapour</tspan></text>
<circle cx="207.5" cy="46.7" r="1.7" fill="#a4ab38"/><circle cx="206.6" cy="49.9" r="1.7" fill="#b0b840"/>
<circle cx="343.4" cy="43.7" r="1.7" fill="#9cba3a"/><circle cx="345.3" cy="46.4" r="1.7" fill="#a8c642"/>
<circle cx="193.4" cy="64.2" r="1.6" fill="url(#gO)"/><circle cx="188.4" cy="66.8" r="2" fill="url(#gO)"/><circle cx="195.8" cy="66.8" r="2" fill="url(#gO)"/><circle cx="192.1" cy="66.3" r="2.2" fill="url(#gMo)"/>
<circle cx="357.5" cy="61.4" r="1.7" fill="url(#gO)"/><circle cx="356" cy="63.9" r="2" fill="url(#gO)"/><circle cx="363" cy="63.9" r="2" fill="url(#gO)"/><circle cx="359.5" cy="63.7" r="2.2" fill="url(#gMo)"/>
<g stroke="#b07090" stroke-width="0.5" fill="none"><path d="M314.3 26.9L320.8 25.6M320.8 25.6L325 28.7M314.3 26.9L313.9 34.1M313.9 34.1L321.5 37.2M321.5 37.2L325 33.7M325 28.7L325 33.7M320.8 25.6L321.9 34.1M321.9 34.1L321.5 37.2M313.9 34.1L321.9 34.1M321.9 34.1L325 33.7"/></g>
<circle cx="314.3" cy="26.9" r="1.3" fill="#9468b4"/>
<circle cx="320.8" cy="25.6" r="1.3" fill="#9468b4"/>
<circle cx="325" cy="28.7" r="1.3" fill="#9468b4"/>
<circle cx="313.9" cy="34.1" r="1.3" fill="#9468b4"/>
<circle cx="321.9" cy="34.1" r="1.3" fill="#9468b4"/>
<circle cx="325" cy="33.7" r="1.3" fill="#9468b4"/>
<circle cx="321.5" cy="37.2" r="1.3" fill="#9468b4"/>
<circle cx="316.1" cy="28.3" r="1.05" fill="#d62c26"/>
<circle cx="314.8" cy="31" r="1.05" fill="#d62c26"/>
<circle cx="316.5" cy="36.8" r="1.05" fill="#d62c26"/>
<circle cx="319.2" cy="34.5" r="1.05" fill="#d62c26"/>
<circle cx="322.4" cy="29.6" r="1.05" fill="#d62c26"/>
<circle cx="324.6" cy="31.4" r="1.05" fill="#d62c26"/>
<circle cx="325.9" cy="36.8" r="1.05" fill="#d62c26"/>
<circle cx="318.3" cy="26.5" r="1.05" fill="#d62c26"/>
<circle cx="318.6" cy="37.6" r="1.05" fill="#d62c26"/>
<circle cx="323.4" cy="26.8" r="1.05" fill="#d62c26"/>
<circle cx="251.1" cy="130.5" r="1.9" fill="url(#gMo)"/>
<circle cx="270" cy="130.5" r="1.9" fill="url(#gS)"/>
<circle cx="289.3" cy="130.5" r="1.9" fill="url(#gO)"/>
<circle cx="308.9" cy="130.5" r="1.9" fill="url(#gSb)"/>
<text x="253.8" y="133.4" font-size="9.3" text-anchor="start" fill="#303030" stroke="#303030" stroke-width="0.16" font-family='"Liberation Sans", Arial, sans-serif' >Mo</text>
<text x="272.6" y="133.4" font-size="9.3" text-anchor="start" fill="#303030" stroke="#303030" stroke-width="0.16" font-family='"Liberation Sans", Arial, sans-serif' >S</text>
<text x="292.7" y="133.4" font-size="9.3" text-anchor="start" fill="#303030" stroke="#303030" stroke-width="0.16" font-family='"Liberation Sans", Arial, sans-serif' >O</text>
<text x="311.8" y="133.4" font-size="9.3" text-anchor="start" fill="#303030" stroke="#303030" stroke-width="0.16" font-family='"Liberation Sans", Arial, sans-serif' >Sb</text>
<text x="75.5" y="152.3" font-size="9.7" text-anchor="start" fill="#303030" stroke="#303030" stroke-width="0.16" font-family='"Liberation Sans", Arial, sans-serif' >2H MoS<tspan dy="2.42" font-size="6.01">2</tspan></text>
<text x="446.6" y="156.1" font-size="9.7" text-anchor="start" fill="#303030" stroke="#303030" stroke-width="0.16" font-family='"Liberation Sans", Arial, sans-serif' >1T-2H MoS<tspan dy="2.42" font-size="6.01">2</tspan></text>
<rect x="27.4" y="160.5" width="139.1" height="124.6" fill="none" stroke="#6e6e6e" stroke-width="1"/>
<text x="28.1" y="296.1" font-size="6.9" text-anchor="middle" fill="#303030" stroke="#303030" stroke-width="0.16" font-family='"Liberation Sans", Arial, sans-serif' >100</text>
<text x="47.9" y="296.1" font-size="6.9" text-anchor="middle" fill="#303030" stroke="#303030" stroke-width="0.16" font-family='"Liberation Sans", Arial, sans-serif' >150</text>
<text x="67.7" y="296.1" font-size="6.9" text-anchor="middle" fill="#303030" stroke="#303030" stroke-width="0.16" font-family='"Liberation Sans", Arial, sans-serif' >200</text>
<text x="87.5" y="296.1" font-size="6.9" text-anchor="middle" fill="#303030" stroke="#303030" stroke-width="0.16" font-family='"Liberation Sans", Arial, sans-serif' >250</text>
<text x="107.3" y="296.1" font-size="6.9" text-anchor="middle" fill="#303030" stroke="#303030" stroke-width="0.16" font-family='"Liberation Sans", Arial, sans-serif' >300</text>
<text x="127.1" y="296.1" font-size="6.9" text-anchor="middle" fill="#303030" stroke="#303030" stroke-width="0.16" font-family='"Liberation Sans", Arial, sans-serif' >350</text>
<text x="146.9" y="296.1" font-size="6.9" text-anchor="middle" fill="#303030" stroke="#303030" stroke-width="0.16" font-family='"Liberation Sans", Arial, sans-serif' >400</text>
<text x="166.7" y="296.1" font-size="6.9" text-anchor="middle" fill="#303030" stroke="#303030" stroke-width="0.16" font-family='"Liberation Sans", Arial, sans-serif' >450</text>
<path d="M27.6 285.1v1.8M37.5 285.1v1.1M47.4 285.1v1.8M57.3 285.1v1.1M67.2 285.1v1.8M77.1 285.1v1.1M87 285.1v1.8M96.9 285.1v1.1M106.8 285.1v1.8M116.7 285.1v1.1M126.6 285.1v1.8M136.5 285.1v1.1M146.4 285.1v1.8M156.3 285.1v1.1M166.2 285.1v1.8" stroke="#6e6e6e" stroke-width="0.8" fill="none"/>
<text x="102.3" y="306.1" font-size="9.65" text-anchor="middle" fill="#303030" stroke="#303030" stroke-width="0.16" font-family='"Liberation Sans", Arial, sans-serif' >Raman shift (a.u.)</text>
<text transform="translate(19 224.6) rotate(-90)" font-size="10.3" text-anchor="middle" stroke="#2a2a2a" stroke-width="0.16" fill="#303030" font-family='"Liberation Sans", Arial, sans-serif'>Intensity(a.u.)</text>
<path d="M27.4 218.8 C29.5 218.77 36.77 218.7 40 218.6 C43.23 218.5 45.22 218.72 46.8 218.2 C48.38 217.68 48.67 216.43 49.5 215.5 C50.33 214.57 51.05 212.65 51.8 212.6 C52.55 212.55 53.2 214.37 54 215.2 C54.8 216.03 55.27 217.27 56.6 217.6 C57.93 217.93 60.1 217.33 62 217.2 C63.9 217.07 66.33 216.97 68 216.8 C69.67 216.63 70.92 216.75 72 216.2 C73.08 215.65 73.77 214.38 74.5 213.5 C75.23 212.62 75.78 210.92 76.4 210.9 C77.02 210.88 77.6 212.45 78.2 213.4 C78.8 214.35 79.37 216.02 80 216.6 C80.63 217.18 81.33 217.08 82 216.9 C82.67 216.72 83.25 216.28 84 215.5 C84.75 214.72 85.67 213.15 86.5 212.2 C87.33 211.25 88.25 210.47 89 209.8 C89.75 209.13 90.25 209.07 91 208.2 C91.75 207.33 92.65 205.55 93.5 204.6 C94.35 203.65 95.27 202.73 96.1 202.5 C96.93 202.27 97.82 202.68 98.5 203.2 C99.18 203.72 99.62 204.53 100.2 205.6 C100.78 206.67 101.4 208.73 102 209.6 C102.6 210.47 102.97 210.57 103.8 210.8 C104.63 211.03 106.13 210.73 107 211 C107.87 211.27 108.25 211.8 109 212.4 C109.75 213 110.53 214.07 111.5 214.6 C112.47 215.13 113.82 215.57 114.8 215.6 C115.78 215.63 116.6 215.4 117.4 214.8 C118.2 214.2 118.93 212.97 119.6 212 C120.27 211.03 120.83 209.73 121.4 209 C121.97 208.27 122.4 207.67 123 207.6 C123.6 207.53 124.17 208.3 125 208.6 C125.83 208.9 126.92 209.5 128 209.4 C129.08 209.3 130.5 208.6 131.5 208 C132.5 207.4 133.23 206.35 134 205.8 C134.77 205.25 135.43 204.57 136.1 204.7 C136.77 204.83 137.27 205.48 138 206.6 C138.73 207.72 139.63 210.13 140.5 211.4 C141.37 212.67 142.47 214.17 143.2 214.2 C143.93 214.23 144.37 212.7 144.9 211.6 C145.43 210.5 145.9 208.55 146.4 207.6 C146.9 206.65 147.42 205.8 147.9 205.9 C148.38 206 148.78 207.02 149.3 208.2 C149.82 209.38 150.28 211.43 151 213 C151.72 214.57 152.43 216.7 153.6 217.6 C154.77 218.5 156.6 218.23 158 218.4 C159.4 218.57 160.58 218.43 162 218.6 C163.42 218.77 165.75 219.27 166.5 219.4" fill="none" stroke="#3f93cf" stroke-width="1.2" stroke-linejoin="round"/>
<path d="M27.4 267.6 C31.17 267.53 41.23 267.33 50 267.2 C58.77 267.07 71.67 266.9 80 266.8 C88.33 266.7 95.67 266.73 100 266.6 C104.33 266.47 104.5 266.17 106 266 C107.5 265.83 108 265.57 109 265.6 C110 265.63 109.33 266.13 112 266.2 C114.67 266.27 121.67 266.1 125 266 C128.33 265.9 130.17 265.8 132 265.6 C133.83 265.4 134.93 265.4 136 264.8 C137.07 264.2 137.8 264.13 138.4 262 C139 259.87 139.25 255.67 139.6 252 C139.95 248.33 140.23 243.18 140.5 240 C140.77 236.82 140.97 232.9 141.2 232.9 C141.43 232.9 141.63 236.48 141.9 240 C142.17 243.52 142.45 250.25 142.8 254 C143.15 257.75 143.6 261.42 144 262.5 C144.4 263.58 144.77 262.58 145.2 260.5 C145.63 258.42 146.17 254.08 146.6 250 C147.03 245.92 147.38 240.17 147.8 236 C148.22 231.83 148.68 225 149.1 225 C149.52 225 149.92 231.83 150.3 236 C150.68 240.17 151.02 246.17 151.4 250 C151.78 253.83 152.18 256.83 152.6 259 C153.02 261.17 153.17 262.13 153.9 263 C154.63 263.87 155.65 264 157 264.2 C158.35 264.4 160.42 264.23 162 264.2 C163.58 264.17 165.75 264.03 166.5 264" fill="none" stroke="#c8312f" stroke-width="1.15" stroke-linejoin="round"/>
<text x="32.7" y="192.4" font-size="9.8" text-anchor="start" fill="#4a86c4" stroke="#4a86c4" stroke-width="0.16" font-family='"Liberation Sans", Arial, sans-serif' textLength="50" lengthAdjust="spacingAndGlyphs">1T-2H MoS<tspan dy="2.45" font-size="6.08">2</tspan></text>
<text x="31.4" y="259.2" font-size="9.6" text-anchor="start" fill="#3a2e2e" stroke="#3a2e2e" stroke-width="0.16" font-family='"Liberation Sans", Arial, sans-serif' >2H MoS<tspan dy="2.4" font-size="5.95">2</tspan></text>
<text x="51.6" y="207.5" font-size="8.6" text-anchor="middle" fill="#303030" stroke="#303030" stroke-width="0.16" font-family='"Liberation Sans", Arial, sans-serif' >J<tspan dy="2.15" font-size="4.64">1</tspan></text>
<text x="76.2" y="207" font-size="8.6" text-anchor="middle" fill="#303030" stroke="#303030" stroke-width="0.16" font-family='"Liberation Sans", Arial, sans-serif' >J<tspan dy="2.15" font-size="4.64">2</tspan></text>
<text x="93.2" y="198.5" font-size="8.6" text-anchor="start" fill="#303030" stroke="#303030" stroke-width="0.16" font-family='"Liberation Sans", Arial, sans-serif' >E<tspan dy="2.15" font-size="4.64">1g</tspan></text>
<text x="124.3" y="205.4" font-size="8.6" text-anchor="middle" fill="#303030" stroke="#303030" stroke-width="0.16" font-family='"Liberation Sans", Arial, sans-serif' >J<tspan dy="2.15" font-size="4.64">3</tspan></text>
<text x="130.7" y="201.8" font-size="8.6" text-anchor="start" fill="#303030" stroke="#303030" stroke-width="0.16" font-family='"Liberation Sans", Arial, sans-serif' >E'<tspan dy="2.15" font-size="4.64">2g</tspan></text>
<text x="148" y="203.4" font-size="8.6" text-anchor="start" fill="#303030" stroke="#303030" stroke-width="0.16" font-family='"Liberation Sans", Arial, sans-serif' >A<tspan dy="2.15" font-size="4.64">1g</tspan></text>
<rect x="202" y="159.9" width="151.2" height="121.8" fill="none" stroke="#333333" stroke-width="1.25"/>
<text x="191.8" y="173.3" font-size="8" text-anchor="middle" fill="#303030" stroke="#303030" stroke-width="0.16" font-family='"Liberation Sans", Arial, sans-serif' >0</text>
<text x="191.8" y="195.5" font-size="8" text-anchor="middle" fill="#303030" stroke="#303030" stroke-width="0.16" font-family='"Liberation Sans", Arial, sans-serif' >-20</text>
<text x="191.8" y="217.7" font-size="8" text-anchor="middle" fill="#303030" stroke="#303030" stroke-width="0.16" font-family='"Liberation Sans", Arial, sans-serif' >-40</text>
<text x="191.8" y="239.9" font-size="8" text-anchor="middle" fill="#303030" stroke="#303030" stroke-width="0.16" font-family='"Liberation Sans", Arial, sans-serif' >-60</text>
<text x="191.8" y="262.1" font-size="8" text-anchor="middle" fill="#303030" stroke="#303030" stroke-width="0.16" font-family='"Liberation Sans", Arial, sans-serif' >-80</text>
<text x="191.8" y="284.3" font-size="8" text-anchor="middle" fill="#303030" stroke="#303030" stroke-width="0.16" font-family='"Liberation Sans", Arial, sans-serif' >-100</text>
<text x="202.2" y="291.5" font-size="8" text-anchor="middle" fill="#303030" stroke="#303030" stroke-width="0.16" font-family='"Liberation Sans", Arial, sans-serif' >-0.8</text>
<text x="221.12" y="291.5" font-size="8" text-anchor="middle" fill="#303030" stroke="#303030" stroke-width="0.16" font-family='"Liberation Sans", Arial, sans-serif' >-0.7</text>
<text x="240.04" y="291.5" font-size="8" text-anchor="middle" fill="#303030" stroke="#303030" stroke-width="0.16" font-family='"Liberation Sans", Arial, sans-serif' >-0.6</text>
<text x="258.96" y="291.5" font-size="8" text-anchor="middle" fill="#303030" stroke="#303030" stroke-width="0.16" font-family='"Liberation Sans", Arial, sans-serif' >-0.5</text>
<text x="277.88" y="291.5" font-size="8" text-anchor="middle" fill="#303030" stroke="#303030" stroke-width="0.16" font-family='"Liberation Sans", Arial, sans-serif' >-0.4</text>
<text x="296.8" y="291.5" font-size="8" text-anchor="middle" fill="#303030" stroke="#303030" stroke-width="0.16" font-family='"Liberation Sans", Arial, sans-serif' >-0.3</text>
<text x="315.72" y="291.5" font-size="8" text-anchor="middle" fill="#303030" stroke="#303030" stroke-width="0.16" font-family='"Liberation Sans", Arial, sans-serif' >-0.2</text>
<text x="334.64" y="291.5" font-size="8" text-anchor="middle" fill="#303030" stroke="#303030" stroke-width="0.16" font-family='"Liberation Sans", Arial, sans-serif' >-0.1</text>
<text x="353.56" y="291.5" font-size="8" text-anchor="middle" fill="#303030" stroke="#303030" stroke-width="0.16" font-family='"Liberation Sans", Arial, sans-serif' >0.0</text>
<path d="M202 170.8h-1.8M202 181.9h-1.1M202 193h-1.8M202 204.1h-1.1M202 215.2h-1.8M202 226.3h-1.1M202 237.4h-1.8M202 248.5h-1.1M202 259.6h-1.8M202 270.7h-1.1M202 281.8h-1.8M201.9 281.7v1.8M211.36 281.7v1.1M220.82 281.7v1.8M230.28 281.7v1.1M239.74 281.7v1.8M249.2 281.7v1.1M258.66 281.7v1.8M268.12 281.7v1.1M277.58 281.7v1.8M287.04 281.7v1.1M296.5 281.7v1.8M305.96 281.7v1.1M315.42 281.7v1.8M324.88 281.7v1.1M334.34 281.7v1.8M343.8 281.7v1.1M353.26 281.7v1.8" stroke="#333333" stroke-width="0.8" fill="none"/>
<text x="283" y="306.3" font-size="10.2" text-anchor="middle" fill="#303030" stroke="#303030" stroke-width="0.16" font-family='"Liberation Sans", Arial, sans-serif' >Potential (V vs. RHE)</text>
<text transform="translate(181.6 215.2) rotate(-90)" font-size="10.3" text-anchor="middle" stroke="#2a2a2a" stroke-width="0.16" fill="#303030" font-family='"Liberation Sans", Arial, sans-serif'>j(mA cm<tspan dy="-3.8" font-size="6.2">-2</tspan><tspan dy="3.8">)</tspan></text>
<path d="M353.2 171.9 C350.17 171.9 340.2 171.9 335 171.9 C329.8 171.9 325.5 171.87 322 171.9 C318.5 171.93 316.33 172 314 172.1 C311.67 172.2 309.63 172.33 308 172.5 C306.37 172.67 305.37 172.87 304.2 173.1 C303.03 173.33 302.07 173.52 301 173.9 C299.93 174.28 298.88 174.82 297.8 175.4 C296.72 175.98 295.57 176.62 294.5 177.4 C293.43 178.18 292.48 179.03 291.4 180.1 C290.32 181.17 289.07 182.52 288 183.8 C286.93 185.08 286.18 185.83 285 187.8 C283.82 189.77 282.27 192.97 280.9 195.6 C279.53 198.23 278.08 200.95 276.8 203.6 C275.52 206.25 274.37 208.68 273.2 211.5 C272.03 214.32 270.87 217.55 269.8 220.5 C268.73 223.45 267.9 225.45 266.8 229.2 C265.7 232.95 264.33 238.2 263.2 243 C262.07 247.8 261.07 251.55 260 258 C258.93 264.45 257.33 277.75 256.8 281.7" fill="none" stroke="#1a1a1a" stroke-width="1.15"/>
<path d="M353.2 171.9 C350.67 171.9 342.53 171.9 338 171.9 C333.47 171.9 329.33 171.88 326 171.9 C322.67 171.92 320.58 171.9 318 172 C315.42 172.1 312.8 172.12 310.5 172.5 C308.2 172.88 305.78 173.75 304.2 174.3 C302.62 174.85 302.07 175.15 301 175.8 C299.93 176.45 298.88 177.23 297.8 178.2 C296.72 179.17 295.48 180.42 294.5 181.6 C293.52 182.78 292.73 183.93 291.9 185.3 C291.07 186.67 290.23 188.32 289.5 189.8 C288.77 191.28 288.17 192.77 287.5 194.2 C286.83 195.63 286.17 196.97 285.5 198.4 C284.83 199.83 284.17 201.32 283.5 202.8 C282.83 204.28 282.37 205.33 281.5 207.3 C280.63 209.27 279.28 212.23 278.3 214.6 C277.32 216.97 276.45 219.07 275.6 221.5 C274.75 223.93 274.17 225.62 273.2 229.2 C272.23 232.78 270.92 237.87 269.8 243 C268.68 248.13 267.53 253.55 266.5 260 C265.47 266.45 264.08 278.08 263.6 281.7" fill="none" stroke="#1a1a1a" stroke-width="1.15" stroke-dasharray="2.6 1.3"/>
<path d="M353.2 171.9 C349.33 171.9 334.62 171.9 330 171.9 C325.38 171.9 326.62 171.85 325.5 171.9 C324.38 171.95 323.98 172.02 323.3 172.2 C322.62 172.38 322.03 172.63 321.4 173 C320.77 173.37 320.13 173.8 319.5 174.4 C318.87 175 318.23 175.77 317.6 176.6 C316.97 177.43 316.3 178.4 315.7 179.4 C315.1 180.4 314.53 181.53 314 182.6 C313.47 183.67 312.97 184.67 312.5 185.8 C312.03 186.93 311.78 188 311.2 189.4 C310.62 190.8 309.82 192.27 309 194.2 C308.18 196.13 307.15 198.57 306.3 201 C305.45 203.43 304.72 205.8 303.9 208.8 C303.08 211.8 302.17 215.6 301.4 219 C300.63 222.4 300.2 224.37 299.3 229.2 C298.4 234.03 296.98 242.03 296 248 C295.02 253.97 294.25 259.38 293.4 265 C292.55 270.62 291.32 278.92 290.9 281.7" fill="none" stroke="#b8142c" stroke-width="1.7"/>
<path d="M353.2 171.9 C349.33 171.9 334.62 171.9 330 171.9 C325.38 171.9 326.62 171.85 325.5 171.9 C324.38 171.95 323.98 172.02 323.3 172.2 C322.62 172.38 322.03 172.63 321.4 173 C320.77 173.37 320.13 173.8 319.5 174.4 C318.87 175 318.23 175.77 317.6 176.6 C316.97 177.43 316.3 178.4 315.7 179.4 C315.1 180.4 314.53 181.53 314 182.6 C313.47 183.67 312.97 184.67 312.5 185.8 C312.03 186.93 311.78 188 311.2 189.4 C310.62 190.8 309.82 192.27 309 194.2 C308.18 196.13 307.15 198.57 306.3 201 C305.45 203.43 304.72 205.8 303.9 208.8 C303.08 211.8 302.17 215.6 301.4 219 C300.63 222.4 300.2 224.37 299.3 229.2 C298.4 234.03 296.98 242.03 296 248 C295.02 253.97 294.25 259.38 293.4 265 C292.55 270.62 291.32 278.92 290.9 281.7" fill="none" stroke="#ee8a8a" stroke-width="1.5" stroke-dasharray="2 3" stroke-opacity="0.55"/>
<path d="M353.2 171.9 C352.67 171.9 350.77 171.88 350 171.9 C349.23 171.92 349 171.92 348.6 172 C348.2 172.08 347.93 172.17 347.6 172.4 C347.27 172.63 346.92 172.98 346.6 173.4 C346.28 173.82 346.02 174.03 345.7 174.9 C345.38 175.77 345.03 177.22 344.7 178.6 C344.37 179.98 344.07 181.3 343.7 183.2 C343.33 185.1 342.97 187.53 342.5 190 C342.03 192.47 341.58 194.17 340.9 198 C340.22 201.83 339.25 207.8 338.4 213 C337.55 218.2 336.87 223.37 335.8 229.2 C334.73 235.03 333.3 241.87 332 248 C330.7 254.13 329.17 260.38 328 266 C326.83 271.62 325.5 279.08 325 281.7" fill="none" stroke="#36a8cc" stroke-width="1.3"/>
<path d="M206 171H220.8" stroke="#a4465c" stroke-width="1.4"  fill="none"/>
<text x="223.5" y="173.9" font-size="8" text-anchor="start" fill="#222" stroke="#222" stroke-width="0.16" font-family='"Liberation Sans", Arial, sans-serif' >1T-2H MoS<tspan dy="2" font-size="4.96">2</tspan></text>
<path d="M206 182.5H220.8" stroke="#e8b4b4" stroke-width="1.2" stroke-dasharray="3 1.2" fill="none"/>
<text x="223.5" y="185.4" font-size="8" text-anchor="start" fill="#222" stroke="#222" stroke-width="0.16" font-family='"Liberation Sans", Arial, sans-serif' >Gr-1T-2H MoS<tspan dy="2" font-size="4.96">2</tspan></text>
<path d="M206 194.6H220.8" stroke="#1a1a1a" stroke-width="1.0"  fill="none"/>
<text x="223.5" y="197.5" font-size="8" text-anchor="start" fill="#222" stroke="#222" stroke-width="0.16" font-family='"Liberation Sans", Arial, sans-serif' >2H MoS<tspan dy="2" font-size="4.96">2</tspan></text>
<path d="M206 207.8H220.8" stroke="#1a1a1a" stroke-width="1.0" stroke-dasharray="1.3 0.9" fill="none"/>
<text x="223.5" y="210.7" font-size="8" text-anchor="start" fill="#222" stroke="#222" stroke-width="0.16" font-family='"Liberation Sans", Arial, sans-serif' >Gr-2H MoS<tspan dy="2" font-size="4.96">2</tspan></text>
<path d="M206 220.4H220.8" stroke="#35aacd" stroke-width="1.4"  fill="none"/>
<text x="223.5" y="223.3" font-size="8" text-anchor="start" fill="#222" stroke="#222" stroke-width="0.16" font-family='"Liberation Sans", Arial, sans-serif' >Pt</text>
<rect x="394.2" y="164.8" width="149.6" height="119.9" fill="none" stroke="#333333" stroke-width="1.2"/>
<text x="390.6" y="167.5" font-size="8.4" text-anchor="end" fill="#303030" stroke="#303030" stroke-width="0.16" font-family='"Liberation Sans", Arial, sans-serif' >0.5</text>
<text x="390.6" y="187.43" font-size="8.4" text-anchor="end" fill="#303030" stroke="#303030" stroke-width="0.16" font-family='"Liberation Sans", Arial, sans-serif' >0.4</text>
<text x="390.6" y="207.36" font-size="8.4" text-anchor="end" fill="#303030" stroke="#303030" stroke-width="0.16" font-family='"Liberation Sans", Arial, sans-serif' >0.3</text>
<text x="390.6" y="227.29" font-size="8.4" text-anchor="end" fill="#303030" stroke="#303030" stroke-width="0.16" font-family='"Liberation Sans", Arial, sans-serif' >0.2</text>
<text x="390.6" y="247.22" font-size="8.4" text-anchor="end" fill="#303030" stroke="#303030" stroke-width="0.16" font-family='"Liberation Sans", Arial, sans-serif' >0.1</text>
<text x="390.6" y="267.15" font-size="8.4" text-anchor="end" fill="#303030" stroke="#303030" stroke-width="0.16" font-family='"Liberation Sans", Arial, sans-serif' >0.0</text>
<text x="390.6" y="287.08" font-size="8.4" text-anchor="end" fill="#303030" stroke="#303030" stroke-width="0.16" font-family='"Liberation Sans", Arial, sans-serif' >-0.1</text>
<text x="409.6" y="294.8" font-size="8.4" text-anchor="middle" fill="#303030" stroke="#303030" stroke-width="0.16" font-family='"Liberation Sans", Arial, sans-serif' >0.0</text>
<text x="447.33" y="294.8" font-size="8.4" text-anchor="middle" fill="#303030" stroke="#303030" stroke-width="0.16" font-family='"Liberation Sans", Arial, sans-serif' >0.5</text>
<text x="485.06" y="294.8" font-size="8.4" text-anchor="middle" fill="#303030" stroke="#303030" stroke-width="0.16" font-family='"Liberation Sans", Arial, sans-serif' >1.0</text>
<text x="522.79" y="294.8" font-size="8.4" text-anchor="middle" fill="#303030" stroke="#303030" stroke-width="0.16" font-family='"Liberation Sans", Arial, sans-serif' >1.5</text>
<path d="M394.2 164.8h-1.8M394.2 174.76h-1.1M394.2 184.73h-1.8M394.2 194.69h-1.1M394.2 204.66h-1.8M394.2 214.62h-1.1M394.2 224.59h-1.8M394.2 234.55h-1.1M394.2 244.52h-1.8M394.2 254.48h-1.1M394.2 264.45h-1.8M394.2 274.41h-1.1M394.2 284.38h-1.8M409.2 284.7v1.8M390.34 284.7v1.1M446.93 284.7v1.8M428.07 284.7v1.1M484.66 284.7v1.8M465.8 284.7v1.1M522.39 284.7v1.8M503.53 284.7v1.1M541.25 284.7v1.1" stroke="#333333" stroke-width="0.8" fill="none"/>
<text x="476.2" y="306.8" font-size="10" text-anchor="middle" fill="#303030" stroke="#303030" stroke-width="0.16" font-family='"Liberation Sans", Arial, sans-serif' >Log Ij (mA cm<tspan dy="-3.8" font-size="6.2">-2</tspan><tspan dy="3.8">)I</tspan></text>
<text transform="translate(374.4 219.4) rotate(-90)" font-size="10" text-anchor="middle" stroke="#2a2a2a" stroke-width="0.16" fill="#303030" font-family='"Liberation Sans", Arial, sans-serif'>Overpotential (V)</text>
<path d="M420.2 217.6L447 208.3M523.7 181.5L530 179.3" stroke="#bdbdbd" stroke-width="0.7" fill="none"/>
<path d="M447 208.3L523.7 181.5" stroke="#1a1a1a" stroke-width="1.5" fill="none"/>
<path d="M416.4 223.4L434.3 218M504.5 199.4L512 197.4" stroke="#bdbdbd" stroke-width="0.7" fill="none"/>
<path d="M434.3 218L504.5 199.4" stroke="#1a1a1a" stroke-width="1.4" stroke-dasharray="2.6 1.3" fill="none"/>
<path d="M404 236.6L422.8 232.1" stroke="#bdbdbd" stroke-width="0.7" fill="none"/>
<path d="M422.8 232.3 C450 230.6 485 224.4 523.2 214" stroke="#e89a9a" stroke-width="1.6" stroke-dasharray="2.6 1.2" fill="none"/>
<path d="M422.8 232.1 C450 230.4 482 224.2 513.6 215.8" stroke="#cc2020" stroke-width="1.5" fill="none"/>
<path d="M407.4 261.2L417.2 259.8" stroke="#bdbdbd" stroke-width="0.7" fill="none"/>
<path d="M417.2 259.8 C450 258 490 256.4 521.9 250.4" stroke="#2a9fc4" stroke-width="1.5" fill="none"/>
<text transform="translate(459.9 202.4) rotate(-17)" font-size="8.4" stroke="#222" stroke-width="0.16" fill="#222" font-family='"Liberation Sans", Arial, sans-serif'>131mV dec<tspan dy="-3.19" font-size="5.21">-1</tspan></text>
<text transform="translate(499.2 207) rotate(-16.3)" font-size="8.4" stroke="#222" stroke-width="0.16" fill="#222" font-family='"Liberation Sans", Arial, sans-serif'>117mV dec<tspan dy="-3.19" font-size="5.21">-1</tspan></text>
<text transform="translate(448.6 225.3) rotate(-9)" font-size="8.4" stroke="#222" stroke-width="0.16" fill="#222" font-family='"Liberation Sans", Arial, sans-serif'>78mV dec<tspan dy="-3.19" font-size="5.21">-1</tspan></text>
<text transform="translate(425.3 256.2) rotate(-3)" font-size="8.4" stroke="#222" stroke-width="0.16" fill="#222" font-family='"Liberation Sans", Arial, sans-serif'>30 mV dec<tspan dy="-3.19" font-size="5.21">-1</tspan></text>
<path d="M397.6 172.4H411.4" stroke="#c0392f" stroke-width="1.3"  fill="none"/>
<text x="413.9" y="175.4" font-size="8" text-anchor="start" fill="#222" stroke="#222" stroke-width="0.16" font-family='"Liberation Sans", Arial, sans-serif' >1T-2H MoS<tspan dy="2" font-size="4.96">2</tspan></text>
<path d="M397.6 181.6H411.4" stroke="#eaa8a8" stroke-width="1.2" stroke-dasharray="2.4 1" fill="none"/>
<text x="413.9" y="184.6" font-size="8" text-anchor="start" fill="#222" stroke="#222" stroke-width="0.16" font-family='"Liberation Sans", Arial, sans-serif' >Gr-1T-2H MoS<tspan dy="2" font-size="4.96">2</tspan></text>
<path d="M397.6 190.3H411.4" stroke="#8a8a8a" stroke-width="1.0" stroke-dasharray="1.6 0.9" fill="none"/>
<text x="413.9" y="193.3" font-size="8" text-anchor="start" fill="#222" stroke="#222" stroke-width="0.16" font-family='"Liberation Sans", Arial, sans-serif' >Gr-2H MoS<tspan dy="2" font-size="4.96">2</tspan></text>
<path d="M397.6 198.5H411.4" stroke="#2a2a2a" stroke-width="1.1"  fill="none"/>
<text x="413.9" y="201.5" font-size="8" text-anchor="start" fill="#222" stroke="#222" stroke-width="0.16" font-family='"Liberation Sans", Arial, sans-serif' >2H MoS<tspan dy="2" font-size="4.96">2</tspan></text>
<path d="M397.6 207.8H411.4" stroke="#35aacd" stroke-width="1.4"  fill="none"/>
<text x="413.9" y="210.8" font-size="8" text-anchor="start" fill="#222" stroke="#222" stroke-width="0.16" font-family='"Liberation Sans", Arial, sans-serif' >Pt</text>
</svg>
</body></html>
